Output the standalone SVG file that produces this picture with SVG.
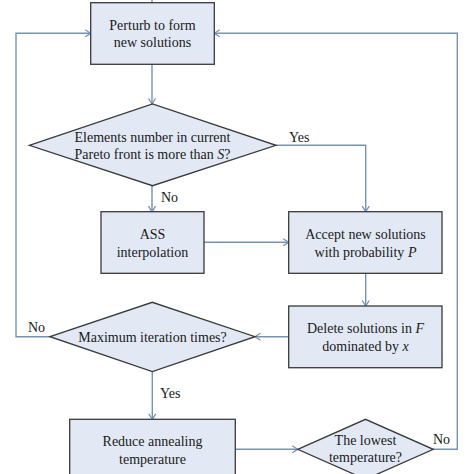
<svg xmlns="http://www.w3.org/2000/svg" width="474" height="474" viewBox="0 0 474 474">
<defs>
<marker id="arr" viewBox="0 0 10 10" refX="9.5" refY="5" markerWidth="10" markerHeight="10" markerUnits="userSpaceOnUse" orient="auto">
<path d="M4,1.5 L9.5,5 L4,8.5" fill="none" stroke="#7892b4" stroke-width="1.3"/>
</marker>
<style>
.n{fill:#e2e9f4;stroke:#3a3a3a;stroke-width:1.3}
.c{fill:none;stroke:#7892b4;stroke-width:1.4}
.t{font-family:"Liberation Serif","Times New Roman",serif;font-size:14px;fill:#1a1a1a;text-anchor:middle;dominant-baseline:central}
.l{font-family:"Liberation Serif","Times New Roman",serif;font-size:14px;fill:#1a1a1a;dominant-baseline:central}
</style>
</defs>
<rect width="474" height="474" fill="#fff"/>
<g id="connectors">
<path class="c" d="M152,0 V2.7"/>
<path class="c" d="M152,64.3 V104" marker-end="url(#arr)"/>
<path class="c" d="M276,145.3 H365.7 V211.7" marker-end="url(#arr)"/>
<path class="c" d="M152,185.7 V211.7" marker-end="url(#arr)"/>
<path class="c" d="M204,242.3 H288.7" marker-end="url(#arr)"/>
<path class="c" d="M365.7,273.3 V306" marker-end="url(#arr)"/>
<path class="c" d="M288.7,336.7 H255" marker-end="url(#arr)"/>
<path class="c" d="M50,336.7 H16 V33.3 H90.7" marker-end="url(#arr)"/>
<path class="c" d="M152.3,371.5 V419.3" marker-end="url(#arr)"/>
<path class="c" d="M235.3,449.3 H297.7" marker-end="url(#arr)"/>
<path class="c" d="M433.3,449.3 H457.3 V33.3 H214.3" marker-end="url(#arr)"/>
<text class="l" x="289" y="137">Yes</text>
<text class="l" x="161" y="197">No</text>
<text class="l" x="28" y="327">No</text>
<text class="l" x="160" y="393.5">Yes</text>
<text class="l" x="433" y="439">No</text>
</g>
<g id="perturb">
<rect class="n" x="90.7" y="2.7" width="123.6" height="61.6"/>
<text class="t" x="152.5" y="25.7">Perturb to form</text>
<text class="t" x="152.5" y="42.7">new solutions</text>
</g>
<g id="pareto">
<polygon class="n" points="29.3,145.3 152.5,104 276,145.3 152.5,185.7"/>
<text class="t" x="152.5" y="137">Elements number in current</text>
<text class="t" x="152.5" y="154">Pareto front is more than <tspan font-style="italic">S</tspan>?</text>
</g>
<g id="ass">
<rect class="n" x="101" y="211.7" width="103" height="61.6"/>
<text class="t" x="152.5" y="234.3">ASS</text>
<text class="t" x="152.5" y="252.3">interpolation</text>
</g>
<g id="accept">
<rect class="n" x="288.7" y="211.7" width="153.3" height="61.6"/>
<text class="t" x="365.5" y="234.3">Accept new solutions</text>
<text class="t" x="365.5" y="252.3">with probability <tspan font-style="italic">P</tspan></text>
</g>
<g id="delete">
<rect class="n" x="288.7" y="306" width="153.3" height="61.7"/>
<text class="t" x="365.5" y="328.3">Delete solutions in <tspan font-style="italic">F</tspan></text>
<text class="t" x="365.5" y="346">dominated by <tspan font-style="italic">x</tspan></text>
</g>
<g id="maxiter">
<polygon class="n" points="50,336.7 152.3,302.3 255,336.7 152.3,371.5"/>
<text class="t" x="152.5" y="337.7">Maximum iteration times?</text>
</g>
<g id="reduce">
<rect class="n" x="69.7" y="419.3" width="165.6" height="70"/>
<text class="t" x="152.5" y="441">Reduce annealing</text>
<text class="t" x="152.5" y="459">temperature</text>
</g>
<g id="lowest">
<polygon class="n" points="297.7,449.3 365.5,419.3 433.3,449.3 365.5,479.3"/>
<text class="t" x="365.5" y="440">The lowest</text>
<text class="t" x="365.5" y="457.7">temperature?</text>
</g>
</svg>
